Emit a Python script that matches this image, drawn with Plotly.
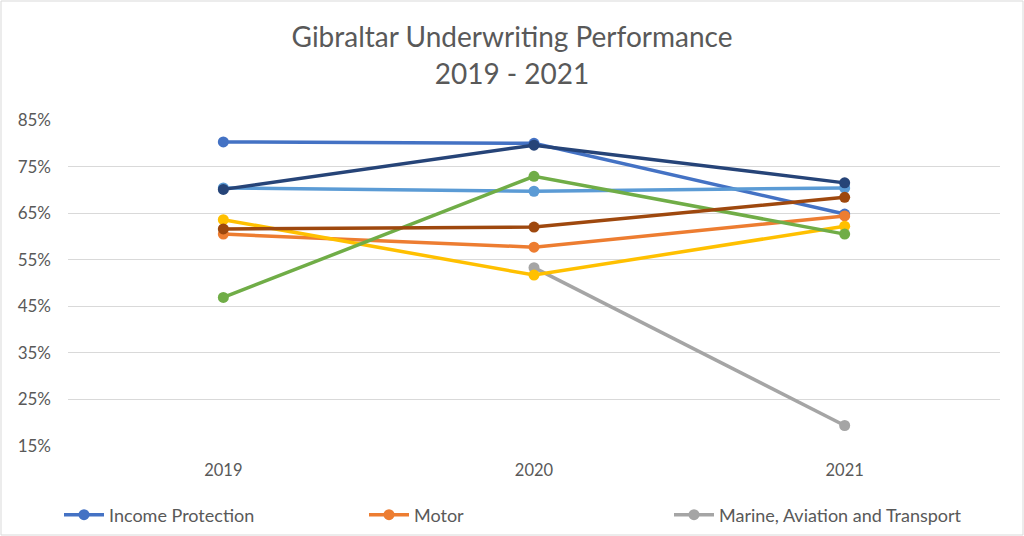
import plotly.graph_objects as go

years = ["2019", "2020", "2021"]
series_names = [
    "Income Protection",
    "Motor",
    "Marine, Aviation and Transport",
    "Fire and Other Damage to Property",
    "General Liability",
    "Credit and Suretyship",
    "Legal Expenses",
    "Miscellaneous Financial Loss",
]
income_protection = [0.803, 0.800, 0.648]
motor = [0.605, 0.577, 0.644]
marine = [None, 0.533, 0.194]
property_ = [0.636, 0.517, 0.622]
liability = [0.704, 0.697, 0.704]
credit = [0.469, 0.729, 0.605]
legal = [0.701, 0.796, 0.715]
misc = [0.616, 0.620, 0.684]
values = [income_protection, motor, marine, property_, liability, credit, legal, misc]
colors = ["#4472C4", "#ED7D31", "#A5A5A5", "#FFC000", "#5B9BD5", "#70AD47", "#264478", "#9E480E"]
y_ticks = [0.15, 0.25, 0.35, 0.45, 0.55, 0.65, 0.75, 0.85]

fig = go.Figure()
for i, (name, vals, col) in enumerate(zip(series_names, values, colors)):
    fig.add_trace(go.Scatter(
        x=years, y=vals, name=name, mode="lines+markers",
        line=dict(color=col, width=3.5),
        marker=dict(color=col, size=11),
        showlegend=i < 3,
    ))

W, H = 1024, 536
ml, mr, mt, mb = 68, 24, 120, 90
pw, ph = W - ml - mr, H - mt - mb

fig.update_layout(
    width=W, height=H,
    margin=dict(l=ml, r=mr, t=mt, b=mb, autoexpand=False),
    paper_bgcolor="white", plot_bgcolor="white",
    font=dict(family="Lato, 'Open Sans', sans-serif", color="#595959", size=15),
    title=dict(
        text="Gibraltar Underwriting Performance<br>2019 - 2021",
        x=0.5, xanchor="center", y=0.912, yanchor="top",
        font=dict(size=28, color="#595959"),
    ),
    xaxis=dict(
        type="category", range=[-0.5, 2.5], showgrid=False,
        showline=False, ticks="", tickfont=dict(size=16.5, color="#595959"),
        zeroline=False, ticklabelstandoff=12,
    ),
    yaxis=dict(
        range=[0.15, 0.85], tickvals=y_ticks, tickformat=".0%",
        showgrid=True, gridcolor="#D9D9D9", gridwidth=1, zeroline=False,
        showline=False, ticks="", ticklabelstandoff=16,
        tickfont=dict(size=17, color="#595959"),
    ),
    legend=dict(
        orientation="h", x=-9 / pw, xanchor="left",
        y=-(515 - (mt + ph)) / ph, yanchor="middle",
        entrywidth=250, entrywidthmode="pixels", bgcolor="rgba(0,0,0,0)",
        font=dict(size=18, color="#595959"), itemwidth=40,
    ),
    showlegend=True,
    shapes=[dict(
        type="rect", xref="paper", yref="paper",
        x0=-(ml - 1) / pw, x1=1 + (mr - 1) / pw,
        y0=-(mb - 1) / ph, y1=1 + (mt - 1) / ph,
        line=dict(color="#D9D9D9", width=1), fillcolor="rgba(0,0,0,0)", layer="below",
    )],
)

fig.write_html("out.html")
